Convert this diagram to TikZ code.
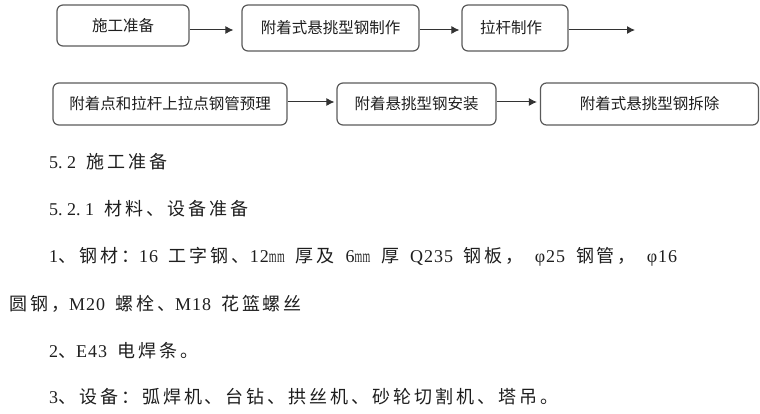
\documentclass[tikz,border=0pt]{standalone}
\usepackage{fontspec}
\usepackage{graphicx}
\usetikzlibrary{arrows.meta}
\newfontfamily\boxcjk{Noto Sans CJK SC}
\newfontfamily\bcjk[LetterSpace=16.5]{Noto Sans CJK SC}
\newfontfamily\blat[LetterSpace=5.5]{Liberation Serif}
\newcommand{\Cj}[1]{{\bcjk\fontsize{18}{21}\selectfont #1}}
\newcommand{\Lt}[1]{{\blat\fontsize{18}{21}\selectfont #1}}
\newcommand{\gapp}{\hspace{10pt}}
\newcommand{\gsp}{\hskip 9pt plus 6pt minus 6pt\relax}
\newcommand{\mmu}{\scalebox{0.55}[1]{mm}}
\newcommand{\pd}{\makebox[9pt][l]{.}}
\definecolor{boxline}{HTML}{5A5A5A}
\definecolor{arrline}{HTML}{333333}
\definecolor{txt}{HTML}{1E1E1E}
\tikzset{
  x=1pt, y=-1pt,
  stepbox/.style={draw=boxline, line width=1.2pt, rounded corners=6pt,
    inner sep=0pt, text=txt, font=\boxcjk\fontsize{15.5}{18}\selectfont},
  flow/.style={draw=arrline, line width=1pt,
    -{Latex[length=8pt,width=8pt]}},
  bodyline/.style={anchor=base west, inner sep=0pt, text=txt}
}
\begin{document}
\begin{tikzpicture}
\useasboundingbox (0,0) rectangle (760,414);
% row 1
\node[stepbox, minimum width=132pt, minimum height=41pt] (b1) at (123,25.5) {施工准备};
\node[stepbox, minimum width=177pt, minimum height=46pt] (b2) at (330.5,28) {\raisebox{2pt}{附着式悬挑型钢制作}};
\node[stepbox, minimum width=106pt, minimum height=46pt] (b3) at (515,28) {\raisebox{2pt}{拉杆制作\hspace{8pt}}};
\coordinate (r1) at (0,30);
\coordinate (end1) at (635,30);
\draw[flow, shorten >=8pt] (b1.east |- r1) -- (b2.west |- r1);
\draw[flow, shorten >=2pt] (b2.east |- r1) -- (b3.west |- r1);
\draw[flow] (b3.east |- r1) -- (end1);
% row 2
\node[stepbox, minimum width=234pt, minimum height=42pt] (b4) at (170,104) {附着点和拉杆上拉点钢管预理};
\node[stepbox, minimum width=159pt, minimum height=42pt] (b5) at (416.5,104) {附着悬挑型钢安装\hspace{6pt}};
\node[stepbox, minimum width=218pt, minimum height=42pt] (b6) at (649.5,104) {附着式悬挑型钢拆除};
\coordinate (r2) at (0,102);
\draw[flow, shorten >=2pt] (b4.east |- r2) -- (b5.west |- r2);
\draw[flow, shorten >=3pt] (b5.east |- r2) -- (b6.west |- r2);
% body text
\node[bodyline] (t1) at (49,168.5) {\Lt{5\pd 2}\gapp\Cj{施工准备}};
\node[bodyline] (t2) at (49,215) {\Lt{5\pd 2\pd 1}\gapp\Cj{材料、设备准备}};
\node[bodyline] (t3) at (49,262) {\hbox to 628pt{\Lt{1}\Cj{、钢材：}\Lt{16}\gsp\Cj{工字钢、}\Lt{12\mmu}\gsp\Cj{厚及}\gsp\Lt{6\mmu}\gsp\Cj{厚}\gsp\Lt{Q235}\gsp\Cj{钢板，}\gsp\Lt{φ25}\gsp\Cj{钢管，}\gsp\Lt{φ16}}};
\node[bodyline] (t4) at (9,310) {\Cj{圆钢，}\Lt{M20}\gapp\Cj{螺栓、}\Lt{M18}\gapp\Cj{花篮螺丝}};
\node[bodyline] (t5) at (49,357) {\Lt{2}\Cj{、}\Lt{E43}\gapp\Cj{电焊条。}};
\node[bodyline] (t6) at (49,403) {\Lt{3}\Cj{、设备：弧焊机、台钻、拱丝机、砂轮切割机、塔吊。}};
\end{tikzpicture}
\end{document}
